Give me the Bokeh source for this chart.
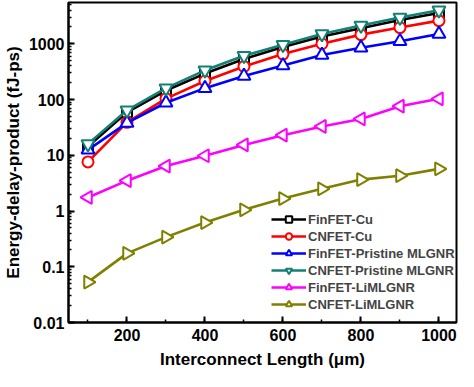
import math
from bokeh.plotting import figure
from bokeh.models import FixedTicker, CustomJSTickFormatter, Legend
from bokeh.embed import file_html
from bokeh.resources import INLINE

length_um = [100, 200, 300, 400, 500, 600, 700, 800, 900, 1000]
finfet_cu = [14.4, 59, 145, 292, 534, 875, 1346, 1900, 2660, 3570]
cnfet_cu = [7.6, 39, 104, 215, 392, 653, 1000, 1460, 1955, 2600]
finfet_pristine = [12.5, 38, 87.5, 160, 265, 408, 627, 850, 1114, 1500]
cnfet_pristine = [16, 64, 160, 334, 610, 960, 1495, 2120, 2960, 3980]
finfet_li = [1.75, 3.5, 6.4, 9.8, 15.3, 22.9, 32.9, 44.8, 76, 103]
cnfet_li = [0.053, 0.174, 0.34, 0.62, 1.05, 1.67, 2.5, 3.66, 4.3, 5.7]

x_ticks = [200, 400, 600, 800, 1000]
y_ticks = [0.01, 0.1, 1, 10, 100, 1000]

series = [
    ("FinFET-Cu", finfet_cu, "#000000", "square", 0, 10),
    ("CNFET-Cu", cnfet_cu, "#ff0000", "circle", 0, 11),
    ("FinFET-Pristine MLGNR", finfet_pristine, "#0000ff", "triangle", 0, 13),
    ("CNFET-Pristine MLGNR", cnfet_pristine, "#128072", "inverted_triangle", 0, 13),
    ("FinFET-LiMLGNR", finfet_li, "#ff00ff", "triangle", math.pi / 2, 13),
    ("CNFET-LiMLGNR", cnfet_li, "#808000", "triangle", -math.pi / 2, 13),
]

p = figure(width=458, height=371, x_range=(50, 1045), y_range=(0.01, 5500),
           y_axis_type="log", output_backend="svg", toolbar_location=None,
           min_border_left=66, min_border_right=2, min_border_top=2,
           min_border_bottom=49)

p.xgrid.visible = False
p.ygrid.visible = False
p.outline_line_color = "#000000"
p.outline_line_width = 2
p.background_fill_color = "white"
p.border_fill_color = "white"

font = "Liberation Sans"

xa = p.xaxis[0]
xa.ticker = FixedTicker(ticks=x_ticks, minor_ticks=[100 * k for k in range(1, 11)])
xa.axis_label = "Interconnect Length (\u03bcm)"
ya = p.yaxis[0]
minors = [m * 10.0 ** e for e in range(-2, 4) for m in range(1, 10)]
ya.ticker = FixedTicker(ticks=y_ticks, minor_ticks=minors)
ya.formatter = CustomJSTickFormatter(code="return String(tick);")
ya.axis_label = "Energy-delay-product (fJ-ps)"

for ax in (xa, ya):
    ax.axis_line_width = 2
    ax.axis_line_color = "#000000"
    ax.major_tick_in = 6
    ax.major_tick_out = 0
    ax.minor_tick_in = 3
    ax.minor_tick_out = 0
    ax.major_tick_line_width = 2
    ax.minor_tick_line_width = 1.5
    ax.major_label_text_font = font
    ax.major_label_text_font_style = "bold"
    ax.major_label_text_font_size = "16px"
    ax.major_label_text_color = "#000000"
    ax.axis_label_text_font = font
    ax.axis_label_text_font_style = "bold"
    ax.axis_label_text_font_size = "17px"
    ax.axis_label_text_color = "#000000"
xa.major_label_standoff = 6
xa.axis_label_standoff = 6
ya.major_label_standoff = 4
ya.axis_label_standoff = 3

items = []
for name, vals, color, marker, ang, size in series:
    r1 = p.line(length_um, vals, line_color=color, line_width=2.6)
    r2 = p.scatter(length_um, vals, marker=marker, angle=ang, size=size,
                   line_color=color, line_width=2, fill_color="white")
    items.append((name, [r1, r2]))

legend = Legend(items=items, location=(203, 10))
legend.border_line_color = None
legend.background_fill_alpha = 0
legend.padding = 0
legend.margin = 0
legend.spacing = 1
legend.glyph_width = 35
legend.glyph_height = 16
legend.label_height = 16
legend.label_standoff = 2
legend.label_text_font = font
legend.label_text_font_style = "bold"
legend.label_text_font_size = "13px"
p.add_layout(legend, "center")

open("out.html", "w").write(file_html(p, INLINE))
